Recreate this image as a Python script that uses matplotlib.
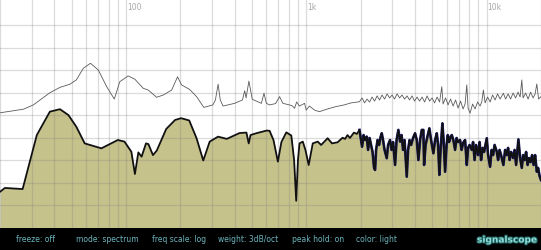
import numpy as np
import matplotlib.pyplot as plt
import matplotlib.patheffects as pe

# current spectrum (thin line), frequency in Hz and level in dB
live_freq = [20, 27, 30.6, 37.8, 43, 48.8, 53, 58, 63.5, 70.2, 78.1, 86.1, 92.3, 102.7, 112,
             124.5, 132.8, 147.7, 161, 179, 193, 203, 225, 246, 270, 303, 313, 324, 333, 345,
             400, 442, 455, 463, 480, 501, 563, 582, 600, 625, 675, 710, 741, 806, 838, 860,
             883, 916, 977, 998, 1040, 1110, 1180, 1310, 1450, 1620, 1770, 1970,
             2036, 2101, 2170, 2241, 2313, 2389, 2466, 2546, 2628, 2714, 2802, 2893, 2987,
             3083, 3184, 3287, 3393, 3503, 3617, 3734, 3855, 3980, 4110, 4243, 4381, 4523,
             4670, 4821, 4978, 5140, 5306, 5479, 5635, 5729, 5915, 6107, 6304, 6509, 6720,
             6938, 7163, 7395, 7587, 7753, 7883, 8087, 8349, 8620, 8900, 9189, 9391, 9584,
             9794, 10111, 10440, 10778, 11128, 11489, 11862, 12373, 12726, 13139, 13566,
             14006, 14460, 14930, 15316, 15652, 15914, 16430, 16963, 17514, 18082, 18550,
             18957, 19398, 20000]
live_db = [-48.8, -47.2, -45.3, -39.9, -37.5, -36.1, -34.2, -29, -26.8, -29.8, -37.2, -42.7,
           -35, -32.4, -33.9, -37.9, -38.7, -41.9, -40.9, -38.7, -32.8, -36.4, -38.4, -41.6,
           -46.4, -45.3, -43.1, -36.1, -43.1, -45.8, -44.6, -43.1, -39, -42.2, -34.7, -42.8,
           -44.6, -40.1, -44.6, -45.3, -44.7, -41.6, -44.6, -45.3, -45.8, -46.8, -44, -45.8,
           -44.6, -47.6, -45.8, -47.6, -48.3, -47.1, -46.1, -45.3, -44.4, -43.9,
           -42.2, -44.4, -42.7, -44, -41.8, -43.6, -41.3, -43.1, -40.9, -42.7, -40.4, -42.2,
           -40.9, -42.7, -40.4, -42.2, -40.9, -42.7, -41.3, -43.1, -41.3, -43.6, -41.8,
           -43.6, -41.8, -44, -41.3, -43.6, -42.2, -44.4, -41.8, -44, -37.2, -44.9, -42.2,
           -45.3, -42.7, -45.8, -43.1, -46.7, -43.6, -47.1, -44.9, -36.4, -46.7, -49, -44.9,
           -47.1, -44, -45.8, -43.9, -38.7, -44.4, -41.8, -44, -40.9, -43.1, -40.4, -42.7,
           -40.1, -42.7, -40.4, -42.7, -40, -42.2, -39.6, -41.8, -34.2, -42.2, -40, -42.7,
           -39.6, -42.2, -40.4, -36, -42.7, -41.6]

# weighted spectrum with peak hold (filled)
peak_freq = [20, 21.3, 26.7, 32, 37.8, 43, 47.9, 53, 59, 73, 90, 98, 107, 112, 117, 122, 129,
             133, 141, 148, 167, 187, 202, 224, 246, 268, 291, 324, 362, 426, 465, 479, 490,
             527, 602, 625, 657, 695, 727, 774, 825, 855, 878, 898, 916, 955, 988, 1030, 1085,
             1156, 1207, 1312, 1387, 1490, 1587, 1640, 1690, 1745, 1835, 1905, 1970,
             2036, 2076, 2115, 2162, 2198, 2241, 2284, 2328, 2373, 2404, 2435, 2482, 2530,
             2578, 2618, 2662, 2714, 2791, 2838, 2911, 2968, 3025, 3103, 3163, 3237, 3308,
             3372, 3437, 3503, 3603, 3664, 3734, 3807, 3905, 4006, 4094, 4179, 4271, 4365,
             4455, 4495, 4582, 4670, 4809, 4915, 5062, 5173, 5286, 5375, 5465, 5549, 5678,
             5766, 5877, 5991, 6083, 6185, 6304, 6401, 6533, 6677, 6806, 6938, 7117, 7255,
             7395, 7587, 7753, 7883, 8035, 8264, 8402, 8565, 8731, 8957, 9130, 9307, 9487,
             9670, 10010, 10177, 10440, 10642, 10848, 11058, 11373, 11563, 11787, 12015,
             12374, 12646, 12891, 13140, 13395, 13654, 14007, 14278, 14554, 14988, 15317,
             15653, 15915, 16223, 16537, 16856, 17183, 17515, 17855, 18200, 18552, 18959,
             19277, 19645, 20000]
peak_db = [-83.9, -82.2, -82.7, -58.7, -48.3, -47.2, -49.8, -55, -62.4, -64.6, -60.9, -61.6,
           -66.1, -76, -66.4, -68.3, -62.4, -62.7, -67.6, -65.6, -56, -52, -51.2, -52.2,
           -60.1, -70, -61.6, -59.4, -60.4, -57.8, -57.6, -62.4, -58.7, -57.9, -56.7, -56.8,
           -60.9, -70.5, -61.8, -57.5, -58.9, -69.8, -87.9, -69.8, -62.4, -61.6, -65.3, -72,
           -62.4, -61.6, -63.1, -60.1, -62.4, -61.9, -59.9, -60.4, -58.7, -60, -57.6, -58.2,
           -56.4,
           -63.9, -58.7, -60.9, -59.4, -65.3, -60, -63.1, -66.2, -73.3, -74.2, -65.3, -60.9,
           -63.1, -59.6, -57.9, -60.9, -65.3, -69, -63.1, -60.9, -65.3, -61.8, -72, -60.9,
           -56.4, -61.6, -58.7, -65.3, -60.9, -77.2, -65.3, -60.9, -63.1, -60, -57.9, -60.9,
           -69.8, -60.9, -56.4, -56.4, -72, -63.1, -60, -55.7, -60.9, -66.8, -60.9, -57.9,
           -63.1, -76.4, -65.3, -53.5, -60.9, -75, -63.1, -58.7, -61.8, -59.6, -58.7, -60.9,
           -65.3, -60, -61.8, -60.9, -65.3, -62.2, -60.9, -72, -64.4, -63.1, -65.3, -61.8,
           -69.8, -63.1, -67.6, -61.8, -69.8, -64.4, -66.2, -60.1, -67.6, -72.8, -65.3,
           -67.6, -63.1, -66.1, -69.8, -65.3, -67.6, -72, -65.3, -67.6, -64.4, -69.8, -66.2,
           -68.9, -65.3, -72, -60.6, -68.9, -73.3, -67.6, -69.8, -66.2, -72, -68.9, -70.7,
           -67.6, -72, -67.6, -75, -73.3, -76.9, -78.7]

freq_labels = {100: '100', 1000: '1k', 10000: '10k'}
status = [('freeze: off', 16), ('mode: spectrum', 76), ('freq scale: log', 152),
          ('weight: 3dB/oct', 218), ('peak hold: on', 292), ('color: light', 356)]

W, H = 541, 250
fig = plt.figure(figsize=(W / 100, H / 100), dpi=100)
ax = fig.add_axes([0, 22 / H, 1, 228 / H])
bar = fig.add_axes([0, 0, 1, 22 / H])

ax.set_xscale('log')
ax.set_xlim(20, 20000)
ax.set_ylim(-100, 1.33)
ax.axis('off')

pf = np.array(peak_freq)
pd_ = np.array(peak_db)
ax.fill_between(pf, pd_, -100, color='#c6c28b', lw=0, zorder=1)

# grid: every 1..9 multiple per decade, every 10 dB
for dec in [10, 100, 1000, 10000]:
    for m in range(1, 10):
        f = dec * m
        if 20 <= f <= 20000:
            ax.axvline(f, color='#808080', alpha=0.28, lw=0.9, zorder=2)
for lvl in range(-90, 0, 10):
    ax.axhline(lvl, color='#808080', alpha=0.28, lw=0.9, zorder=2)

ax.plot(live_freq, live_db, color='#5a5a5a', lw=0.6, zorder=3)
noisy = pf >= 1970
ax.plot(pf[noisy], pd_[noisy], color='#20207a', lw=1.9, zorder=4)
ax.plot(pf, pd_, color='#111111', lw=1.3, zorder=5)

for f, t in freq_labels.items():
    ax.text(f * 1.01, -2.2, t, color='#a8a8a8', fontsize=5.5, ha='left', va='center')

bar.set_facecolor('black')
bar.set_xlim(0, W)
bar.set_ylim(0, 22)
bar.set_xticks([])
bar.set_yticks([])
for s in bar.spines.values():
    s.set_visible(False)
for t, x in status:
    bar.text(x, 10, t, color='#6bb5bd', fontsize=5.5, ha='left', va='center')
bar.text(507, 10, 'signalscope', color='#8fe0dc', fontsize=6.5, fontweight='bold',
         ha='center', va='center',
         path_effects=[pe.withStroke(linewidth=1.5, foreground='#1d5a5a')])

fig.savefig('out.png', dpi=100)
